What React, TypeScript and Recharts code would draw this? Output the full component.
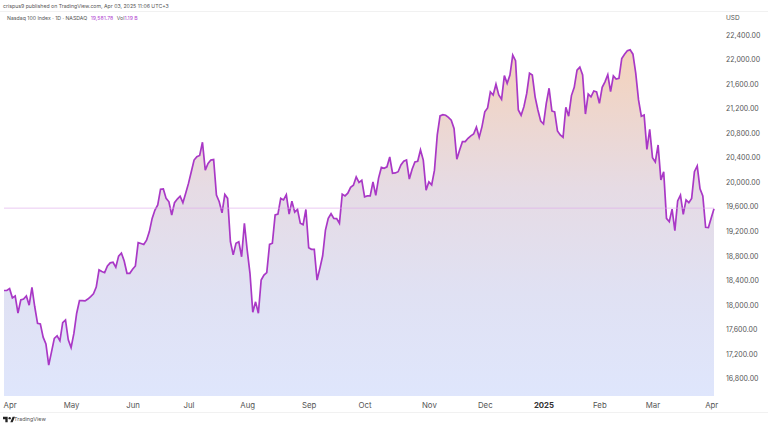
import React from "react";
import { AreaChart, Area, XAxis, YAxis, ReferenceLine } from "recharts";

const closes: number[] = [
  18240, 18240, 18270, 18120, 18150, 17870, 18085, 18100, 18150, 18000,
  18290, 17975, 17705, 17695, 17480, 17370, 17025, 17240, 17460, 17500,
  17420, 17715, 17760, 17435, 17310, 17540, 17870, 18075, 18075, 18070,
  18100, 18140, 18185, 18295, 18575, 18550, 18530, 18640, 18690, 18700,
  18620, 18800, 18850, 18720, 18520, 18520, 18585, 18640, 19020, 19005,
  18990, 19060, 19200, 19415, 19550, 19635, 19890, 19895, 19740, 19685,
  19470, 19670, 19730, 19775, 19670, 19825, 19985, 20175, 20365, 20420,
  20440, 20655, 20200, 20310, 20365, 20375, 19795, 19685, 19505, 19805,
  19740, 19035, 18820, 19010, 19035, 18790, 19335, 18900, 18520, 17885,
  18055, 17870, 18410, 18490, 18530, 18990, 19010, 19470, 19485, 19740,
  19715, 19800, 19485, 19695, 19515, 19560, 19335, 19310, 19560, 18935,
  18910, 18910, 18410, 18600, 18805, 19225, 19415, 19490, 19415, 19410,
  19335, 19810, 19780, 19825, 19920, 19955, 20090, 20000, 20035, 19765,
  19780, 19780, 20010, 19790, 20070, 20245, 20230, 20255, 20415, 20150,
  20155, 20175, 20285, 20345, 20365, 20055, 20215, 20335, 20345, 20530,
  20365, 19875, 20010, 19960, 20200, 20775, 21085, 21105, 21095, 21060,
  21015, 20880, 20380, 20530, 20665, 20665, 20720, 20760, 20790, 20900,
  20735, 20910, 21150, 21215, 21475, 21425, 21600, 21425, 21355, 21740,
  21615, 21750, 22075, 21985, 21180, 21095, 21235, 21450, 21780, 21750,
  21395, 21180, 21000, 20955, 21290, 21535, 21165, 21150, 20840, 20775,
  20735, 21225, 21080, 21415, 21550, 21830, 21880, 21750, 21115, 21440,
  21395, 21490, 21475, 21290, 21550, 21640, 21755, 21480, 21735, 21685,
  21695, 22020, 22090, 22145, 22160, 22090, 21780, 21345, 21080, 21100,
  20540, 20865, 20405, 20335, 20610, 20040, 20175, 19415, 19360, 19565,
  19215, 19700, 19795, 19480, 19715, 19670, 19740, 20175, 20270, 19895,
  19780, 19270, 19265, 19420, 19570,
];
const monthLabels = ["Apr", "May", "Jun", "Jul", "Aug", "Sep", "Oct", "Nov", "Dec", "2025", "Feb", "Mar", "Apr"];
const monthSessions = [2, 24, 46, 66, 87, 109, 129, 152, 172, 193, 213, 232, 253];
const priceTicks = [16800, 17200, 17600, 18000, 18400, 18800, 19200, 19600, 20000, 20400, 20800, 21200, 21600, 22000, 22400];
const lastClose = 19581.78;

const rows = closes.map((close, session) => ({ session, close }));
const FONT = "Inter, 'Noto Sans', sans-serif";

const MonthTick = (props: any) => {
  const { x, y, payload } = props;
  const label = monthLabels[monthSessions.indexOf(payload.value)];
  const bold = label === "2025";
  return (
    <text x={x + 0.5} y={y + 6} textAnchor="middle" fontFamily={FONT} fontSize={7.8} fontWeight={bold ? 700 : 400} fill={bold ? "#333" : "#555"}>
      {label}
    </text>
  );
};

const note: React.CSSProperties = { position: "absolute", whiteSpace: "nowrap", fontFamily: FONT, lineHeight: 1 };

export default function App() {
  return (
    <div style={{ position: "fixed", left: 0, top: 0, width: 768, height: 427, background: "#fff", overflow: "hidden" }}>
      <div style={{ ...note, left: 3, top: 3.5, fontSize: 5.2, color: "#555" }}>crispus9 published on TradingView.com, Apr 03, 2025 11:06 UTC+3</div>
      <div style={{ position: "absolute", left: 0, top: 11, width: 768, height: 1, background: "#f1f1f1" }} />
      <div style={{ ...note, left: 7, top: 15.5, fontSize: 5.2, color: "#555" }}>
        Nasdaq 100 Index · 1D · NASDAQ <span style={{ color: "#b13fd0", marginLeft: 2 }}>19,581.78</span>{" "}
        <span style={{ marginLeft: 2 }}>Vol</span>
        <span style={{ color: "#b13fd0" }}>1.19 B</span>
      </div>
      <div style={{ ...note, left: 726, top: 15, fontSize: 6.5, color: "#555" }}>USD</div>
      <AreaChart width={768} height={427} data={rows} margin={{ top: 12, right: 0, bottom: 0, left: 4 }}>
        <defs>
          <linearGradient id="priceFill" x1="0" y1="0" x2="0" y2="1">
            <stop offset="0%" stopColor="#f4d2bb" />
            <stop offset="40%" stopColor="#e6dbe4" />
            <stop offset="70%" stopColor="#e0e1f3" />
            <stop offset="100%" stopColor="#dfe6fc" />
          </linearGradient>
        </defs>
        <XAxis
          dataKey="session"
          type="number"
          domain={[0, closes.length - 1]}
          ticks={monthSessions}
          interval={0}
          height={31}
          axisLine={false}
          tickLine={false}
          tickMargin={0}
          tick={<MonthTick />}
        />
        <YAxis
          orientation="right"
          width={54}
          type="number"
          domain={[16521, 22777]}
          allowDataOverflow
          ticks={priceTicks}
          interval={0}
          axisLine={false}
          tickLine={false}
          tickMargin={6}
          tickFormatter={(v: number) => v.toLocaleString("en-US", { minimumFractionDigits: 2 })}
          tick={{ fontFamily: FONT, fontSize: 7, fill: "#555" }}
        />
        <Area
          dataKey="close"
          type="linear"
          stroke="#a938c6"
          strokeWidth={1.7}
          fill="url(#priceFill)"
          fillOpacity={1}
          dot={false}
          activeDot={false}
          isAnimationActive={false}
        />
        <ReferenceLine y={lastClose} stroke="#dca8ea" strokeWidth={0.8} strokeOpacity={0.8} />
      </AreaChart>
      <div style={{ position: "absolute", left: 0, top: 412, width: 768, height: 1, background: "#f1f1f1" }} />
      <svg width={12} height={7} viewBox="0 0 36 20" style={{ position: "absolute", left: 3, top: 416 }}>
        <path d="M0 2h14v16H7V9H0zM22 18l7-16h7l-7 16z" fill="#222" />
        <circle cx="20" cy="6" r="3.5" fill="#222" />
      </svg>
      <div style={{ ...note, left: 14, top: 416.5, fontSize: 5.4, color: "#555" }}>TradingView</div>
    </div>
  );
}
